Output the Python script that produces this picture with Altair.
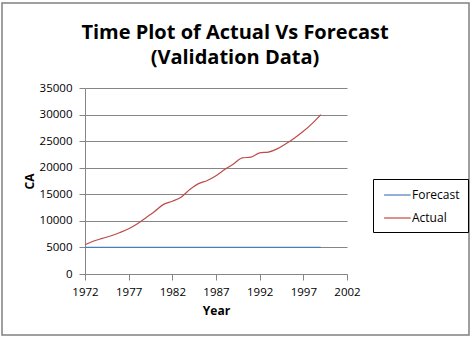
import altair as alt
import pandas as pd

years = list(range(1972, 2000))
actual = [5500, 6200, 6700, 7200, 7800, 8500, 9450, 10600, 11800, 13100,
          13700, 14450, 15900, 17000, 17600, 18500, 19650, 20700, 21850, 22000,
          22800, 22950, 23550, 24500, 25600, 26850, 28300, 30000]
forecast = [5000] * len(years)

series_names = ["Forecast", "Actual"]
series_colors = ["#4A7EBB", "#BE4B48"]
y_ticks = [0, 5000, 10000, 15000, 20000, 25000, 30000, 35000]
x_ticks = [1972, 1977, 1982, 1987, 1992, 1997, 2002]

rows = []
for y, v in zip(years, forecast):
    rows.append({"Year": y, "Value": v, "Series": "Forecast"})
for y, v in zip(years, actual):
    rows.append({"Year": y, "Value": v, "Series": "Actual"})
df = pd.DataFrame(rows)

FONT = "Open Sans"
GRID = "#868686"

lines = alt.Chart(df).mark_line(strokeWidth=1.2, interpolate="monotone").encode(
    x=alt.X("Year:Q", scale=alt.Scale(domain=[1972, 2002], nice=False, zero=False),
            axis=alt.Axis(values=x_ticks, format="d", title="Year", grid=False,
                          labelFlush=False)),
    y=alt.Y("Value:Q", scale=alt.Scale(domain=[0, 35000], nice=False),
            axis=alt.Axis(values=y_ticks, format="d", title="CA", grid=True,
                          labelFlush=False)),
    color=alt.Color("Series:N",
                    scale=alt.Scale(domain=series_names, range=series_colors),
                    sort=series_names,
                    legend=alt.Legend(title=None, orient="none", legendX=288, legendY=91,
                                      symbolType="M-0.7,0H3.1", symbolSize=196,
                                      symbolStrokeWidth=1.2, labelFont=FONT,
                                      labelFontSize=12, labelColor="#000000",
                                      strokeColor="#000000", padding=8,
                                      rowPadding=9, labelOffset=15)),
    order=alt.Order("Year:Q"),
)

frame = alt.Chart(pd.DataFrame({"k": [0]})).mark_rect(
    fill=None, stroke="#808080", strokeWidth=1.5
).encode(x=alt.value(-83), x2=alt.value(384), y=alt.value(-85), y2=alt.value(247))

chart = alt.layer(frame, lines).properties(
    width=262, height=186,
    padding={"left": 85, "top": 88, "right": 129, "bottom": 67},
    autosize=alt.AutoSizeParams(type="none"),
    title=alt.TitleParams(
        text=["Time Plot of Actual Vs Forecast", "(Validation Data)"],
        font=FONT, fontSize=20, fontWeight="bold", color="#000000",
        anchor="middle", frame="group", dx=19, offset=22, dy=88, lineHeight=25,
    ),
).configure_view(stroke=None).configure_axis(
    domainColor=GRID, tickColor=GRID, gridColor=GRID, gridWidth=1,
    labelFont=FONT, labelFontSize=11.5, labelColor="#000000",
    titleFont=FONT, titleFontSize=12, titleFontWeight="bold", titleColor="#000000",
    tickSize=6,
).configure_axisX(titlePadding=8, labelPadding=6).configure_axisY(titlePadding=3, labelPadding=7)

chart.save("out.html", embed_options={"renderer": "svg", "actions": False})
